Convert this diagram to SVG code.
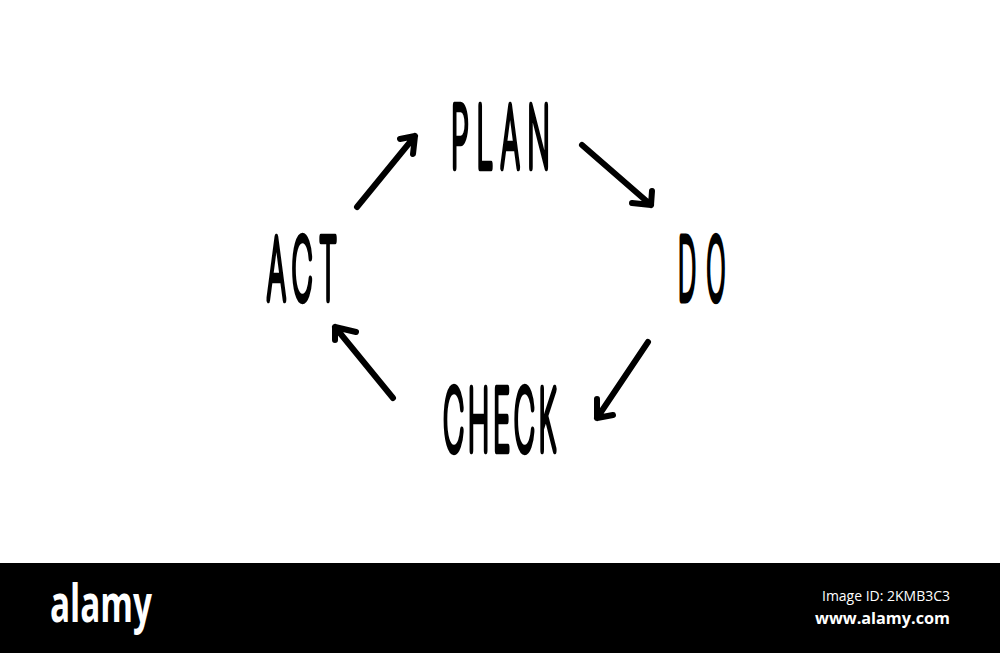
<svg xmlns="http://www.w3.org/2000/svg" width="1000" height="653" viewBox="0 0 1000 653">
  <style>
    .lbl { font-family: Inter, "Liberation Sans", sans-serif; font-weight: 100; font-size: 84px; fill: #000; stroke: #000; stroke-width: 6.5; stroke-linejoin: round; stroke-linecap: round; vector-effect: non-scaling-stroke; }
    .arrow { fill: none; stroke: #000; stroke-width: 6; stroke-linecap: round; stroke-linejoin: round; }
    .wm { font-family: "Open Sans", "Liberation Sans", sans-serif; fill: #fff; }
  </style>
  <rect x="0" y="0" width="1000" height="653" fill="#fff"/>
  <g id="plan"><text class="lbl" transform="translate(451,167) scale(0.35,1)" x="0" y="0" textLength="283" lengthAdjust="spacing">PLAN</text></g>
  <g id="do"><text class="lbl" transform="translate(678,299) scale(0.3,1)" x="0 95" y="0">DO</text></g>
  <g id="check"><text class="lbl" transform="translate(443,450) scale(0.35,1)" x="0" y="0" textLength="323" lengthAdjust="spacing">CHECK</text></g>
  <g id="act"><text class="lbl" transform="translate(267,299) scale(0.35,1)" x="0" y="0" textLength="200" lengthAdjust="spacing">ACT</text></g>
  <g id="connectors">
    <path class="arrow" d="M357,207 L415,136 M400,139 L415,136 L413,154"/>
    <path class="arrow" d="M582,145 L651,205 M652,191 L651,205 L632,203"/>
    <path class="arrow" d="M648,342 L597,418 M597,399 L597,418 L613,415"/>
    <path class="arrow" d="M393,398 L335,327 M335,340 L335,327 L356,332"/>
  </g>
  <g id="watermark">
    <rect x="0" y="563" width="1000" height="90" fill="#000"/>
    <text class="wm" x="50" y="622" font-size="52" font-weight="bold" textLength="102" lengthAdjust="spacingAndGlyphs">alamy</text>
    <text class="wm" x="822" y="601" font-size="14" textLength="128" lengthAdjust="spacingAndGlyphs">Image ID: 2KMB3C3</text>
    <text class="wm" x="815" y="624" font-size="16" font-weight="bold" textLength="135" lengthAdjust="spacingAndGlyphs">www.alamy.com</text>
  </g>
</svg>
